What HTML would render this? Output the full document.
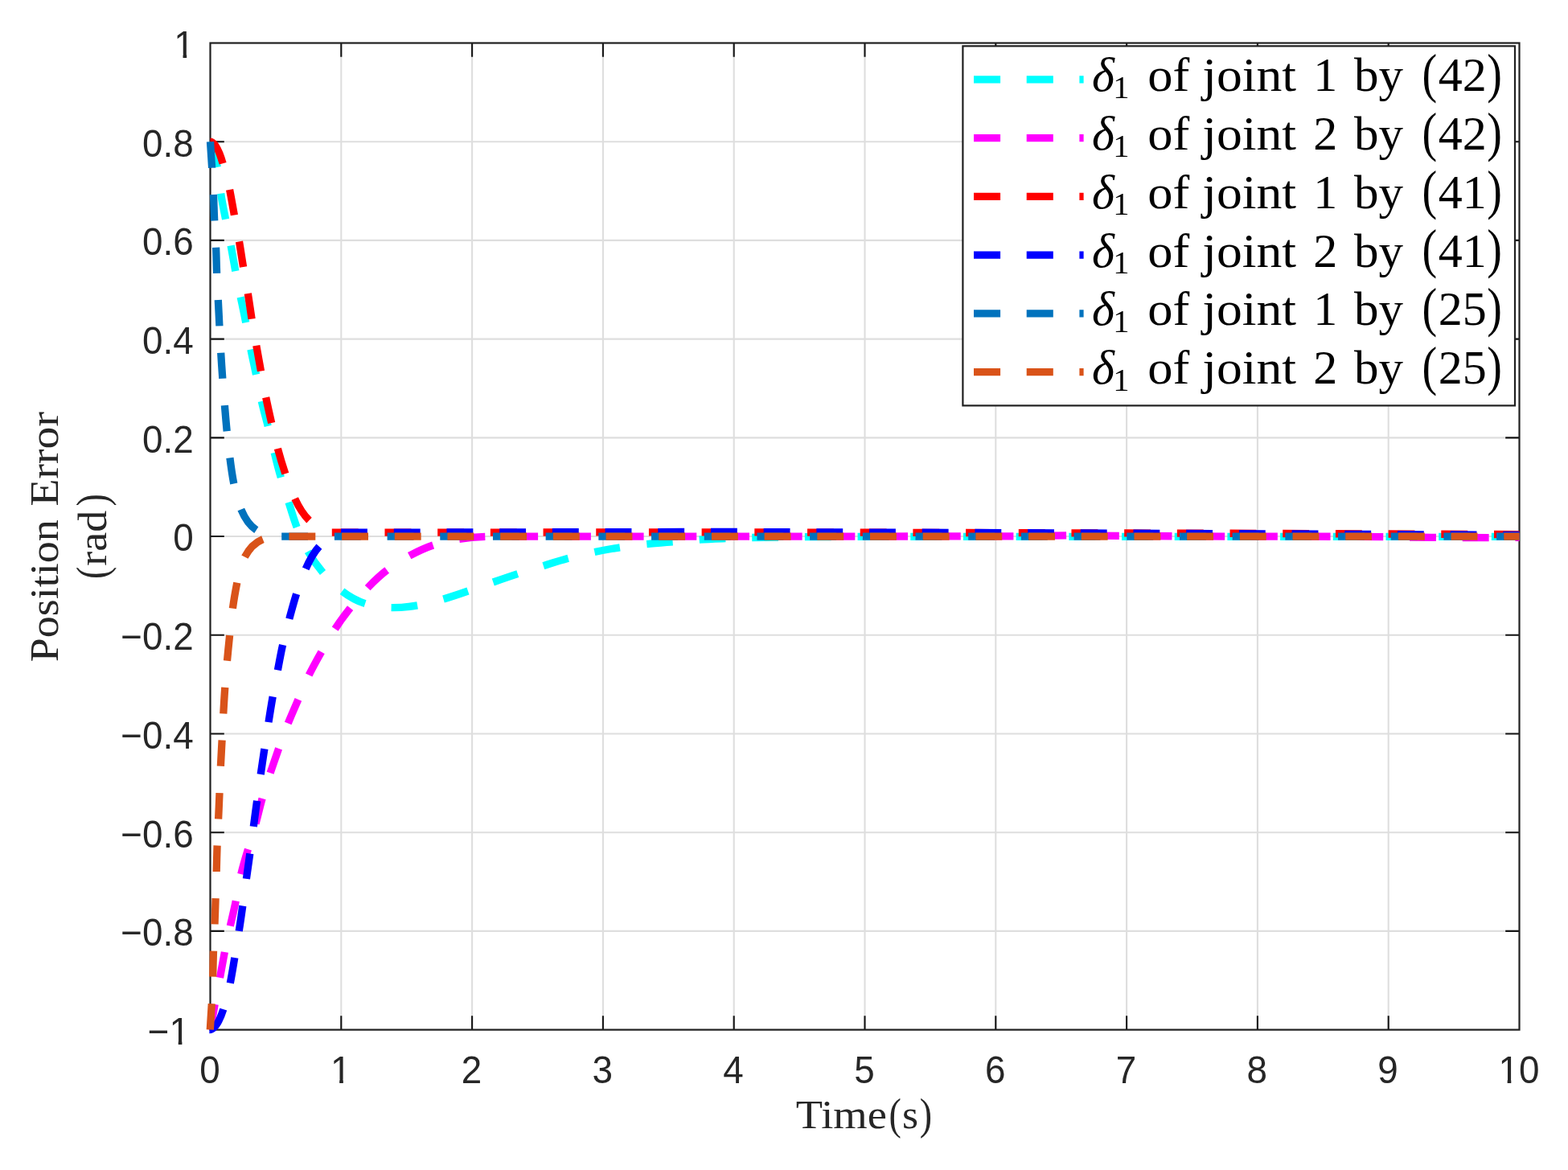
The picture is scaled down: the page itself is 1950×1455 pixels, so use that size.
<!DOCTYPE html>
<html lang="en"><head><meta charset="utf-8"><title>Position Error</title>
<style>
html,body{margin:0;padding:0;background:#ffffff;}
body{width:1950px;height:1455px;overflow:hidden;}
svg{display:block;}
</style></head><body>
<svg width="1950" height="1455" viewBox="0 0 1950 1455">
<rect x="0" y="0" width="1950" height="1455" fill="#ffffff"/>
<path d="M424.30 53.50 V1280.60 M587.10 53.50 V1280.60 M749.90 53.50 V1280.60 M912.70 53.50 V1280.60 M1075.50 53.50 V1280.60 M1238.30 53.50 V1280.60 M1401.10 53.50 V1280.60 M1563.90 53.50 V1280.60 M1726.70 53.50 V1280.60 M261.50 1157.89 H1889.50 M261.50 1035.18 H1889.50 M261.50 912.47 H1889.50 M261.50 789.76 H1889.50 M261.50 667.05 H1889.50 M261.50 544.34 H1889.50 M261.50 421.63 H1889.50 M261.50 298.92 H1889.50 M261.50 176.21 H1889.50" stroke="#dedede" stroke-width="2.1" fill="none"/>
<path d="M424.30 1280.60 v-17.30 M424.30 53.50 v17.30 M587.10 1280.60 v-17.30 M587.10 53.50 v17.30 M749.90 1280.60 v-17.30 M749.90 53.50 v17.30 M912.70 1280.60 v-17.30 M912.70 53.50 v17.30 M1075.50 1280.60 v-17.30 M1075.50 53.50 v17.30 M1238.30 1280.60 v-17.30 M1238.30 53.50 v17.30 M1401.10 1280.60 v-17.30 M1401.10 53.50 v17.30 M1563.90 1280.60 v-17.30 M1563.90 53.50 v17.30 M1726.70 1280.60 v-17.30 M1726.70 53.50 v17.30 M261.50 1157.89 h17.30 M1889.50 1157.89 h-17.30 M261.50 1035.18 h17.30 M1889.50 1035.18 h-17.30 M261.50 912.47 h17.30 M1889.50 912.47 h-17.30 M261.50 789.76 h17.30 M1889.50 789.76 h-17.30 M261.50 667.05 h17.30 M1889.50 667.05 h-17.30 M261.50 544.34 h17.30 M1889.50 544.34 h-17.30 M261.50 421.63 h17.30 M1889.50 421.63 h-17.30 M261.50 298.92 h17.30 M1889.50 298.92 h-17.30 M261.50 176.21 h17.30 M1889.50 176.21 h-17.30" stroke="#151515" stroke-width="2.1" fill="none"/>
<rect x="261.50" y="53.50" width="1628.00" height="1227.10" fill="none" stroke="#202020" stroke-width="2.2"/>
<g fill="none" stroke-width="9.30" stroke-linecap="butt" stroke-linejoin="round">
<path d="M261.50 176.20 C264.86 186.59 268.21 196.97 270.30 207.80 M274.70 240.70 C276.20 251.50 278.37 261.81 280.60 272.60 M287.10 305.40 C289.10 316.16 290.83 326.42 292.80 337.10 M299.20 369.50 C301.41 380.13 303.61 390.28 305.70 401.20 M311.90 434.50 C314.03 445.20 316.29 454.93 318.50 465.70 M325.30 499.00 C327.74 509.71 330.49 519.32 333.20 529.90 M341.20 562.80 C343.80 573.58 346.31 583.60 349.30 593.80 M359.00 624.70 C362.24 635.02 365.25 645.26 369.10 655.60 M383.00 685.80 C388.37 695.23 394.42 703.67 401.50 712.00 M425.50 735.30 C434.29 742.05 443.76 747.33 454.10 750.70 M486.60 755.70 C497.55 755.87 508.22 754.75 519.10 752.80 M551.50 745.00 C561.94 741.93 571.73 738.58 582.00 735.00 M613.30 724.00 C623.57 720.39 633.36 716.98 643.80 713.60 M675.80 703.60 C686.26 700.35 696.09 697.20 706.70 694.30 M739.40 686.50 C750.10 684.26 760.10 682.44 770.90 680.80 M804.30 676.60 C815.31 675.48 825.75 674.70 836.60 673.80 M869.70 671.20 C880.69 670.51 891.42 670.13 902.30 669.70 M935.20 668.50 L968.00 668.00 M1000.89 667.70 L1033.79 667.55 M1066.58 667.40 L1099.48 667.35 M1132.27 667.30 L1165.17 667.30 M1197.96 667.30 L1230.86 667.30 M1263.65 667.30 L1296.55 667.30 M1329.34 667.30 L1362.24 667.30 M1395.03 667.30 L1427.93 667.30 M1460.72 667.30 L1493.62 667.30 M1526.41 667.30 L1559.31 667.30 M1592.10 667.30 L1625.00 667.30 M1657.79 667.30 L1690.69 667.30 M1723.48 667.30 L1756.38 667.30 M1789.17 667.30 L1822.07 667.30 M1854.86 667.30 L1887.76 667.30" stroke="#00ffff"/>
<path d="M261.50 1280.50 C263.33 1270.18 265.16 1259.86 267.20 1249.00 M273.50 1215.90 C275.52 1205.05 277.31 1194.75 279.40 1184.00 M286.30 1151.50 C288.71 1140.96 291.14 1131.07 293.30 1120.30 M299.80 1087.10 C302.26 1076.33 305.28 1066.45 308.50 1056.10 M318.00 1024.40 C320.86 1013.85 323.16 1003.56 326.10 993.00 M336.10 961.30 C339.58 950.99 342.97 941.20 346.60 930.90 M358.20 899.60 C362.30 889.39 366.62 879.78 370.90 869.80 M384.20 839.60 C388.97 829.73 394.25 820.33 399.70 810.70 M416.70 782.10 C422.62 772.97 428.84 764.57 435.60 756.10 M457.20 731.10 C464.73 723.11 472.48 715.68 481.20 709.00 M509.20 691.20 C518.78 685.99 528.24 681.50 538.60 678.00 M571.10 670.30 C581.98 668.62 592.48 667.77 603.30 667.40 M636.30 667.20 L669.10 667.20 M701.99 667.20 L734.89 667.20 M767.68 667.20 L800.58 667.20 M833.37 667.20 L866.27 667.20 M899.06 667.20 L931.96 667.20 M964.75 667.20 L997.65 667.20 M1030.44 667.15 L1063.34 667.10 M1096.13 667.05 L1129.03 667.00 M1161.82 666.95 L1194.72 666.90 M1227.51 666.85 L1260.41 666.79 M1293.20 666.35 L1326.10 665.90 M1358.89 666.10 L1391.79 666.31 M1424.58 666.52 L1457.48 666.73 M1490.27 666.94 L1523.17 667.03 M1555.96 667.08 L1588.86 667.13 M1621.65 667.18 L1654.55 667.23 M1687.34 667.28 L1720.24 667.56 M1753.03 667.99 L1785.93 668.40 M1818.72 668.50 L1851.62 668.59 M1884.41 668.34 L1889.50 668.30" stroke="#ff00ff"/>
<path d="M261.50 176.20 Q269.30 176.20 277.10 203.30 M285.60 235.80 C287.67 246.17 289.41 256.63 291.40 267.50 M297.50 300.40 C299.35 311.14 300.80 321.34 302.60 332.10 M308.30 364.90 C310.05 375.63 311.40 385.77 313.10 396.60 M318.80 429.80 C320.74 440.64 322.56 450.79 324.50 461.50 M330.70 494.30 C332.91 505.10 335.28 515.43 337.70 526.00 M345.40 557.90 C348.20 568.43 351.33 578.69 354.80 589.10 M366.70 620.10 C371.33 630.13 376.78 639.63 384.50 647.10 M412.80 662.20 L445.70 662.20 M478.49 662.17 L511.39 662.15 M544.18 662.12 L577.08 662.09 M609.87 662.06 L642.77 662.03 M675.56 662.00 L708.46 661.97 M741.25 661.94 L774.15 661.91 M806.94 661.88 L839.84 661.85 M872.63 661.82 L905.53 661.81 M938.32 661.89 L971.22 661.96 M1004.01 662.04 L1036.91 662.12 M1069.70 662.19 L1102.60 662.27 M1135.39 662.34 L1168.29 662.42 M1201.08 662.49 L1233.98 662.57 M1266.77 662.65 L1299.67 662.72 M1332.46 662.80 L1365.36 662.87 M1398.15 662.95 L1431.05 663.03 M1463.84 663.10 L1496.74 663.18 M1529.53 663.25 L1562.43 663.35 M1595.22 663.48 L1628.12 663.61 M1660.91 663.74 L1693.81 663.87 M1726.60 664.00 L1759.50 664.13 M1792.29 664.25 L1825.19 664.38 M1857.98 664.51 L1889.50 664.70" stroke="#ff0000"/>
<path d="M260.40 1280.50 Q269.65 1280.50 277.80 1255.10 M286.30 1222.70 C288.36 1212.28 290.01 1202.02 291.80 1191.10 M297.20 1157.90 C298.88 1147.20 300.29 1137.37 301.80 1126.50 M306.40 1092.90 C307.90 1082.07 309.32 1072.31 310.80 1061.50 M315.30 1027.80 C316.76 1016.77 318.13 1006.56 319.60 995.80 M324.20 963.00 C325.75 952.27 327.26 942.14 328.90 931.30 M334.00 898.10 C335.68 887.28 337.28 877.18 339.20 866.40 M345.40 833.40 C347.42 822.65 349.21 812.61 351.60 802.00 M359.80 769.60 C362.63 758.99 365.32 748.97 368.60 738.60 M380.20 707.40 C384.64 697.27 389.63 687.70 396.90 679.60 M424.10 662.20 L456.90 662.20 M489.79 662.11 L522.69 662.05 M555.48 662.00 L588.38 661.94 M621.17 661.88 L654.07 661.83 M686.86 661.77 L719.76 661.71 M752.55 661.65 L785.45 661.60 M818.24 661.54 L851.14 661.48 M883.93 661.43 L916.83 661.46 M949.62 661.58 L982.52 661.69 M1015.31 661.81 L1048.21 661.92 M1081.00 662.04 L1113.90 662.16 M1146.69 662.27 L1179.59 662.39 M1212.38 662.50 L1245.28 662.62 M1278.07 662.74 L1310.97 662.85 M1343.76 662.97 L1376.66 663.08 M1409.45 663.20 L1442.35 663.32 M1475.14 663.43 L1508.04 663.55 M1540.83 663.66 L1573.73 663.82 M1606.52 663.99 L1639.42 664.16 M1672.21 664.33 L1705.11 664.50 M1737.90 664.67 L1770.80 664.84 M1803.59 665.01 L1836.49 665.18 M1869.28 665.34 L1889.50 665.50" stroke="#0000ff"/>
<path d="M261.50 176.20 C262.19 186.93 262.89 197.66 263.60 208.70 M265.50 242.00 C265.96 252.92 266.16 263.43 266.70 274.40 M268.60 307.70 C269.09 318.58 269.19 328.91 269.60 339.80 M271.30 373.10 C271.89 384.04 272.36 394.46 272.90 405.40 M274.70 438.70 C275.34 449.59 276.01 459.90 276.80 470.80 M279.40 504.10 C280.29 515.02 281.14 525.36 282.20 536.20 M285.90 569.30 C287.27 580.23 288.74 590.76 290.80 601.50 M299.80 633.50 C304.10 643.82 310.07 653.52 318.80 659.20 M350.20 667.20 L383.00 667.20 M415.89 667.20 L448.79 667.20 M481.58 667.20 L514.48 667.20 M547.27 667.20 L580.17 667.20 M612.96 667.20 L645.86 667.20 M678.65 667.20 L711.55 667.20 M744.34 667.20 L777.24 667.20 M810.03 667.20 L842.93 667.20 M875.72 667.20 L908.62 667.20 M941.41 667.20 L974.31 667.20 M1007.10 667.20 L1040.00 667.20 M1072.79 667.20 L1105.69 667.20 M1138.48 667.20 L1171.38 667.20 M1204.17 667.20 L1237.07 667.20 M1269.86 667.20 L1302.76 667.20 M1335.55 667.20 L1368.45 667.20 M1401.24 667.20 L1434.14 667.20 M1466.93 667.20 L1499.83 667.20 M1532.62 667.20 L1565.52 667.20 M1598.31 667.20 L1631.21 667.20 M1664.00 667.20 L1696.90 667.20 M1729.69 667.20 L1762.59 667.20 M1795.38 667.20 L1828.28 667.20 M1861.07 667.20 L1889.50 667.20" stroke="#0072bd"/>
<path d="M261.30 1280.50 C262.00 1269.95 262.70 1259.40 263.30 1248.30 M264.70 1214.60 C265.00 1203.66 265.12 1193.43 265.50 1182.60 M267.00 1149.40 C267.47 1138.48 267.74 1128.07 268.10 1117.20 M269.20 1084.00 C269.51 1073.02 269.71 1062.41 270.10 1051.50 M271.60 1018.50 C272.12 1007.62 272.56 997.06 273.00 986.10 M274.40 952.80 C274.92 941.82 275.53 931.22 276.10 920.40 M277.80 887.60 C278.39 876.67 279.02 865.84 279.80 854.80 M282.50 821.80 C283.48 811.11 284.49 800.99 285.60 790.10 M289.40 756.60 C290.90 745.67 292.69 735.48 294.80 724.70 M304.40 692.70 C309.48 682.86 317.23 674.55 326.90 670.60 M359.40 667.20 L392.30 667.20 M425.09 667.20 L457.99 667.20 M490.78 667.20 L523.68 667.20 M556.47 667.20 L589.37 667.20 M622.16 667.20 L655.06 667.20 M687.85 667.20 L720.75 667.20 M753.54 667.20 L786.44 667.20 M819.23 667.20 L852.13 667.20 M884.92 667.20 L917.82 667.20 M950.61 667.20 L983.51 667.20 M1016.30 667.20 L1049.20 667.20 M1081.99 667.20 L1114.89 667.20 M1147.68 667.20 L1180.58 667.20 M1213.37 667.20 L1246.27 667.20 M1279.06 667.20 L1311.96 667.20 M1344.75 667.20 L1377.65 667.20 M1410.44 667.20 L1443.34 667.20 M1476.13 667.20 L1509.03 667.20 M1541.82 667.20 L1574.72 667.20 M1607.51 667.20 L1640.41 667.20 M1673.20 667.20 L1706.10 667.20 M1738.89 667.20 L1771.79 667.20 M1804.58 667.20 L1837.48 667.20 M1870.27 667.20 L1889.50 667.20" stroke="#d95319"/>
</g>
<rect x="1197.40" y="57.30" width="686.60" height="447.10" fill="#ffffff" stroke="#202020" stroke-width="2.2"/>
<path d="M1211 98.85 H1347.6" stroke="#00ffff" stroke-width="9.30" stroke-dasharray="33.1 32.6" fill="none"/>
<text font-family="'Liberation Serif','DejaVu Serif',serif" font-size="60" fill="#000000" y="113.45"><tspan x="1358" font-style="italic">δ</tspan><tspan x="1384.3" dy="8.5" font-size="40.5">1</tspan><tspan x="1405" dy="-8.5"> </tspan><tspan x="1427.3" textLength="52" lengthAdjust="spacingAndGlyphs">of</tspan> <tspan x="1495.2" textLength="116.8" lengthAdjust="spacingAndGlyphs">joint</tspan> <tspan x="1633.3">1</tspan> <tspan x="1684" textLength="61" lengthAdjust="spacingAndGlyphs">by</tspan> <tspan x="1768.6" dy="0.5" font-size="66.7" textLength="18.66" lengthAdjust="spacingAndGlyphs">(</tspan><tspan x="1788.8" dy="-0.5">42</tspan><tspan x="1849.3" dy="0.5" font-size="66.7" textLength="18.66" lengthAdjust="spacingAndGlyphs">)</tspan></text>
<path d="M1211 171.59 H1347.6" stroke="#ff00ff" stroke-width="9.30" stroke-dasharray="33.1 32.6" fill="none"/>
<text font-family="'Liberation Serif','DejaVu Serif',serif" font-size="60" fill="#000000" y="186.19"><tspan x="1358" font-style="italic">δ</tspan><tspan x="1384.3" dy="8.5" font-size="40.5">1</tspan><tspan x="1405" dy="-8.5"> </tspan><tspan x="1427.3" textLength="52" lengthAdjust="spacingAndGlyphs">of</tspan> <tspan x="1495.2" textLength="116.8" lengthAdjust="spacingAndGlyphs">joint</tspan> <tspan x="1633.3">2</tspan> <tspan x="1684" textLength="61" lengthAdjust="spacingAndGlyphs">by</tspan> <tspan x="1768.6" dy="0.5" font-size="66.7" textLength="18.66" lengthAdjust="spacingAndGlyphs">(</tspan><tspan x="1788.8" dy="-0.5">42</tspan><tspan x="1849.3" dy="0.5" font-size="66.7" textLength="18.66" lengthAdjust="spacingAndGlyphs">)</tspan></text>
<path d="M1211 244.33 H1347.6" stroke="#ff0000" stroke-width="9.30" stroke-dasharray="33.1 32.6" fill="none"/>
<text font-family="'Liberation Serif','DejaVu Serif',serif" font-size="60" fill="#000000" y="258.93"><tspan x="1358" font-style="italic">δ</tspan><tspan x="1384.3" dy="8.5" font-size="40.5">1</tspan><tspan x="1405" dy="-8.5"> </tspan><tspan x="1427.3" textLength="52" lengthAdjust="spacingAndGlyphs">of</tspan> <tspan x="1495.2" textLength="116.8" lengthAdjust="spacingAndGlyphs">joint</tspan> <tspan x="1633.3">1</tspan> <tspan x="1684" textLength="61" lengthAdjust="spacingAndGlyphs">by</tspan> <tspan x="1768.6" dy="0.5" font-size="66.7" textLength="18.66" lengthAdjust="spacingAndGlyphs">(</tspan><tspan x="1788.8" dy="-0.5">41</tspan><tspan x="1849.3" dy="0.5" font-size="66.7" textLength="18.66" lengthAdjust="spacingAndGlyphs">)</tspan></text>
<path d="M1211 317.07 H1347.6" stroke="#0000ff" stroke-width="9.30" stroke-dasharray="33.1 32.6" fill="none"/>
<text font-family="'Liberation Serif','DejaVu Serif',serif" font-size="60" fill="#000000" y="331.67"><tspan x="1358" font-style="italic">δ</tspan><tspan x="1384.3" dy="8.5" font-size="40.5">1</tspan><tspan x="1405" dy="-8.5"> </tspan><tspan x="1427.3" textLength="52" lengthAdjust="spacingAndGlyphs">of</tspan> <tspan x="1495.2" textLength="116.8" lengthAdjust="spacingAndGlyphs">joint</tspan> <tspan x="1633.3">2</tspan> <tspan x="1684" textLength="61" lengthAdjust="spacingAndGlyphs">by</tspan> <tspan x="1768.6" dy="0.5" font-size="66.7" textLength="18.66" lengthAdjust="spacingAndGlyphs">(</tspan><tspan x="1788.8" dy="-0.5">41</tspan><tspan x="1849.3" dy="0.5" font-size="66.7" textLength="18.66" lengthAdjust="spacingAndGlyphs">)</tspan></text>
<path d="M1211 389.81 H1347.6" stroke="#0072bd" stroke-width="9.30" stroke-dasharray="33.1 32.6" fill="none"/>
<text font-family="'Liberation Serif','DejaVu Serif',serif" font-size="60" fill="#000000" y="404.41"><tspan x="1358" font-style="italic">δ</tspan><tspan x="1384.3" dy="8.5" font-size="40.5">1</tspan><tspan x="1405" dy="-8.5"> </tspan><tspan x="1427.3" textLength="52" lengthAdjust="spacingAndGlyphs">of</tspan> <tspan x="1495.2" textLength="116.8" lengthAdjust="spacingAndGlyphs">joint</tspan> <tspan x="1633.3">1</tspan> <tspan x="1684" textLength="61" lengthAdjust="spacingAndGlyphs">by</tspan> <tspan x="1768.6" dy="0.5" font-size="66.7" textLength="18.66" lengthAdjust="spacingAndGlyphs">(</tspan><tspan x="1788.8" dy="-0.5">25</tspan><tspan x="1849.3" dy="0.5" font-size="66.7" textLength="18.66" lengthAdjust="spacingAndGlyphs">)</tspan></text>
<path d="M1211 462.55 H1347.6" stroke="#d95319" stroke-width="9.30" stroke-dasharray="33.1 32.6" fill="none"/>
<text font-family="'Liberation Serif','DejaVu Serif',serif" font-size="60" fill="#000000" y="477.15"><tspan x="1358" font-style="italic">δ</tspan><tspan x="1384.3" dy="8.5" font-size="40.5">1</tspan><tspan x="1405" dy="-8.5"> </tspan><tspan x="1427.3" textLength="52" lengthAdjust="spacingAndGlyphs">of</tspan> <tspan x="1495.2" textLength="116.8" lengthAdjust="spacingAndGlyphs">joint</tspan> <tspan x="1633.3">2</tspan> <tspan x="1684" textLength="61" lengthAdjust="spacingAndGlyphs">by</tspan> <tspan x="1768.6" dy="0.5" font-size="66.7" textLength="18.66" lengthAdjust="spacingAndGlyphs">(</tspan><tspan x="1788.8" dy="-0.5">25</tspan><tspan x="1849.3" dy="0.5" font-size="66.7" textLength="18.66" lengthAdjust="spacingAndGlyphs">)</tspan></text>
<g font-family="'Liberation Sans','DejaVu Sans',sans-serif" font-size="45.83" fill="#262626">
<text transform="translate(260.90,1346.60) scale(1,1.035)" text-anchor="middle">0</text>
<g clip-path="url(#c0)"><text transform="translate(423.70,1346.60) scale(1,1.035)" text-anchor="middle">1</text></g>
<text transform="translate(586.50,1346.60) scale(1,1.035)" text-anchor="middle">2</text>
<text transform="translate(749.30,1346.60) scale(1,1.035)" text-anchor="middle">3</text>
<text transform="translate(912.10,1346.60) scale(1,1.035)" text-anchor="middle">4</text>
<text transform="translate(1074.90,1346.60) scale(1,1.035)" text-anchor="middle">5</text>
<text transform="translate(1237.70,1346.60) scale(1,1.035)" text-anchor="middle">6</text>
<text transform="translate(1400.50,1346.60) scale(1,1.035)" text-anchor="middle">7</text>
<text transform="translate(1563.30,1346.60) scale(1,1.035)" text-anchor="middle">8</text>
<text transform="translate(1726.10,1346.60) scale(1,1.035)" text-anchor="middle">9</text>
<g clip-path="url(#c1)"><text transform="translate(1888.90,1346.6) scale(1,1.035)" text-anchor="middle">10</text></g>
<g clip-path="url(#c2)"><text transform="translate(236.00,1299.00) scale(1,1.035)" text-anchor="end">−1</text></g>
<text transform="translate(240.80,1176.29) scale(1,1.035)" text-anchor="end">−0.8</text>
<text transform="translate(240.80,1053.58) scale(1,1.035)" text-anchor="end">−0.6</text>
<text transform="translate(240.80,930.87) scale(1,1.035)" text-anchor="end">−0.4</text>
<text transform="translate(240.80,808.16) scale(1,1.035)" text-anchor="end">−0.2</text>
<text transform="translate(240.80,685.45) scale(1,1.035)" text-anchor="end">0</text>
<text transform="translate(240.80,562.74) scale(1,1.035)" text-anchor="end">0.2</text>
<text transform="translate(240.80,440.03) scale(1,1.035)" text-anchor="end">0.4</text>
<text transform="translate(240.80,317.32) scale(1,1.035)" text-anchor="end">0.6</text>
<text transform="translate(240.80,194.61) scale(1,1.035)" text-anchor="end">0.8</text>
<g clip-path="url(#c3)"><text transform="translate(241.80,71.90) scale(1,1.035)" text-anchor="end">1</text></g>
</g>
<text font-family="'Liberation Serif','DejaVu Serif',serif" font-size="51.50" fill="#262626" y="1403.2"><tspan x="989.8" textLength="113" lengthAdjust="spacingAndGlyphs">Time</tspan><tspan x="1105.6" dy="0.5" font-size="54.8" textLength="15.33" lengthAdjust="spacingAndGlyphs">(</tspan><tspan x="1122.1" dy="-0.5">s</tspan><tspan x="1143.7" dy="0.5" font-size="54.8" textLength="15.33" lengthAdjust="spacingAndGlyphs">)</tspan></text>
<text transform="rotate(-90)" font-family="'Liberation Serif','DejaVu Serif',serif" font-size="51.50" fill="#262626"><tspan x="-823.2" y="72" textLength="177" lengthAdjust="spacingAndGlyphs">Position</tspan> <tspan x="-629.5" y="72" textLength="117.5" lengthAdjust="spacingAndGlyphs">Error</tspan> <tspan x="-720.1" y="132.7" font-size="54.8" textLength="15.33" lengthAdjust="spacingAndGlyphs">(</tspan><tspan x="-703.8" y="132.2" textLength="69" lengthAdjust="spacingAndGlyphs">rad</tspan><tspan x="-629.5" y="132.7" font-size="54.8" textLength="15.33" lengthAdjust="spacingAndGlyphs">)</tspan></text>
<defs><clipPath id="c0"><path d="M0 1286.60 H1950 V1342.16 H426.83 V1349.60 H422.18 V1342.16 H0 Z"/></clipPath><clipPath id="c1"><path d="M0 1280 H1950 V1360 H1888.90 V1342.16 H1879.29 V1350 H1874.64 V1342.16 H0 Z"/></clipPath><clipPath id="c2"><path d="M0 1239.00 H1950 V1294.56 H226.39 V1302.00 H221.74 V1294.56 H0 Z"/></clipPath><clipPath id="c3"><path d="M0 11.90 H1950 V67.46 H232.19 V74.90 H227.54 V67.46 H0 Z"/></clipPath></defs>
</svg>
</body></html>
